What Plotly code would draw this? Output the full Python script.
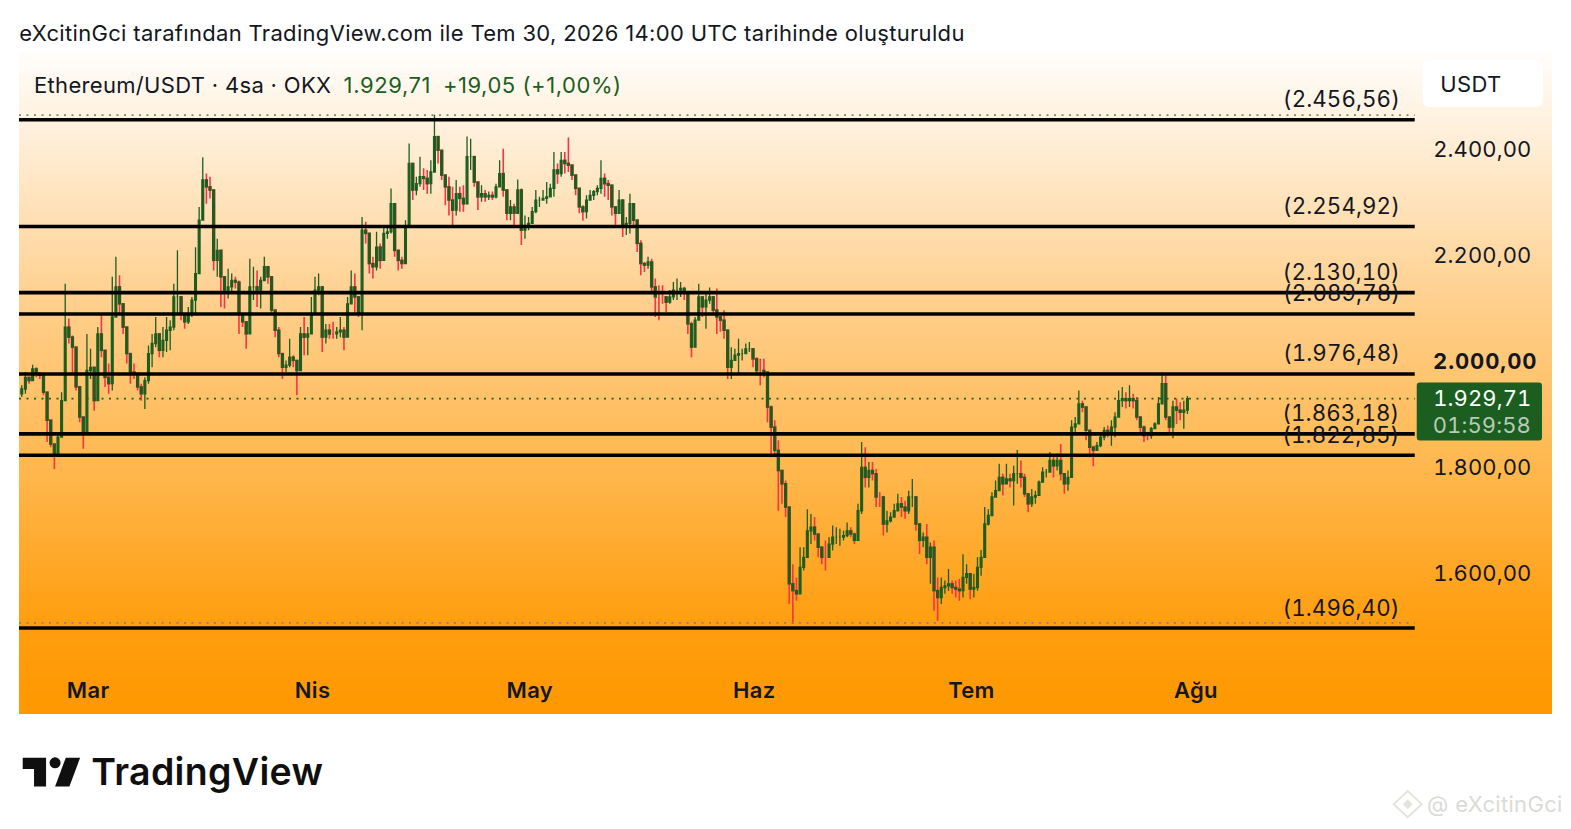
import numpy as np
import pandas as pd
import plotly.graph_objects as go

highs = [1952,1955,1980,1970,1994,1989,1980,1961,1933,1866,1835,1863,1942,2147,2081,2049,2027,1936,1888,2052,2024,1970,2065,2090,2008,1996,2160,2198,2163,2097,2065,1993,1996,1974,1958,1970,2030,2052,2084,2052,2065,2084,2078,2147,2210,2122,2090,2103,2122,2216,2292,2386,2355,2349,2317,2232,2197,2160,2175,2166,2160,2153,2090,2071,2194,2179,2172,2160,2198,2179,2153,2078,2065,2002,2002,2043,2012,2002,2065,2084,2065,2122,2160,2166,2141,2071,2071,2075,2065,2084,2065,2122,2172,2166,2116,2273,2264,2229,2198,2245,2223,2256,2254,2327,2223,2210,2198,2267,2412,2362,2349,2387,2365,2362,2380,2466,2425,2371,2349,2349,2330,2343,2330,2333,2425,2421,2374,2336,2333,2324,2321,2321,2336,2380,2402,2311,2305,2298,2344,2327,2276,2273,2292,2324,2311,2324,2339,2336,2396,2374,2396,2396,2423,2371,2352,2317,2295,2314,2324,2324,2333,2380,2355,2343,2317,2292,2324,2280,2273,2317,2298,2261,2229,2188,2198,2194,2157,2144,2144,2122,2135,2150,2157,2150,2141,2122,2075,2084,2147,2122,2128,2140,2122,2138,2087,2097,2046,2027,2024,2043,2024,2034,2037,2024,2008,2005,2005,1980,1917,1889,1851,1791,1775,1693,1617,1592,1649,1649,1721,1712,1706,1674,1649,1662,1668,1690,1687,1684,1680,1696,1687,1677,1731,1848,1838,1810,1810,1797,1753,1744,1718,1715,1731,1750,1744,1737,1756,1778,1731,1680,1677,1693,1658,1662,1592,1592,1586,1608,1586,1586,1589,1636,1617,1599,1599,1630,1644,1725,1721,1753,1775,1807,1788,1807,1788,1803,1833,1813,1788,1750,1759,1756,1775,1800,1797,1829,1822,1826,1844,1788,1794,1889,1895,1945,1926,1885,1860,1841,1848,1860,1876,1879,1889,1904,1945,1952,1942,1955,1939,1933,1892,1879,1863,1876,1885,1933,1979,1974,1892,1926,1930,1923,1926,1935]
lows = [1907,1933,1939,1958,1970,1970,1967,1936,1848,1838,1797,1838,1870,1945,2034,1977,1945,1885,1835,1926,1967,1907,1926,2008,1952,1939,1945,2122,2090,2052,1996,1958,1967,1945,1926,1910,1958,1989,2027,2008,2008,2018,2021,2059,2090,2078,2062,2071,2084,2090,2235,2305,2298,2308,2172,2160,2103,2100,2119,2131,2138,2052,2065,2024,2052,2116,2103,2100,2160,2147,2090,2046,2008,1967,1980,1989,1989,1936,1996,2012,2012,2052,2090,2125,2018,2034,2043,2043,2043,2046,2021,2046,2109,2090,2084,2059,2223,2166,2157,2172,2175,2229,2232,2242,2198,2172,2175,2194,2330,2305,2314,2330,2324,2317,2317,2362,2374,2343,2295,2276,2257,2276,2283,2283,2330,2362,2330,2286,2302,2302,2305,2305,2308,2336,2311,2267,2267,2257,2280,2220,2232,2248,2273,2280,2292,2305,2298,2311,2311,2336,2349,2355,2358,2343,2314,2280,2266,2270,2305,2305,2314,2317,2311,2305,2276,2257,2280,2235,2239,2242,2257,2207,2163,2169,2175,2128,2084,2078,2109,2093,2109,2116,2116,2122,2116,2052,2008,2040,2078,2084,2062,2109,2087,2052,2056,2043,1967,1967,2002,1977,2002,2018,2018,1989,1974,1955,1970,1885,1819,1819,1718,1731,1706,1542,1504,1548,1567,1605,1643,1655,1662,1630,1617,1605,1630,1643,1655,1652,1662,1668,1668,1655,1662,1712,1762,1762,1775,1725,1725,1671,1677,1696,1706,1718,1706,1703,1712,1725,1680,1636,1649,1617,1580,1529,1510,1542,1561,1567,1561,1554,1548,1554,1580,1551,1554,1567,1595,1649,1690,1725,1744,1762,1747,1769,1762,1728,1769,1762,1744,1715,1725,1731,1750,1775,1781,1794,1781,1794,1775,1750,1756,1788,1863,1895,1904,1851,1819,1802,1835,1838,1851,1857,1841,1857,1895,1914,1911,1914,1911,1889,1863,1848,1851,1854,1873,1882,1926,1889,1867,1855,1882,1889,1873,1901]
closes = [1939,1948,1970,1964,1986,1977,1974,1942,1889,1844,1825,1857,1926,2065,2046,2027,1952,1895,1863,1983,1989,1926,2052,2021,1970,1958,2084,2141,2109,2065,2015,1980,1977,1952,1939,1964,2015,2034,2052,2021,2040,2059,2065,2122,2122,2090,2075,2090,2116,2166,2267,2343,2330,2324,2191,2210,2160,2135,2141,2153,2150,2090,2075,2052,2141,2141,2135,2153,2179,2160,2097,2059,2015,1989,1993,2008,2002,1983,2052,2046,2052,2090,2135,2141,2046,2059,2052,2052,2056,2059,2046,2109,2141,2122,2090,2248,2242,2185,2179,2216,2191,2242,2245,2298,2210,2191,2185,2254,2374,2324,2336,2349,2346,2336,2358,2425,2399,2352,2330,2305,2286,2317,2308,2298,2387,2387,2339,2311,2317,2311,2314,2311,2330,2355,2324,2280,2292,2280,2324,2248,2254,2261,2283,2305,2305,2308,2311,2327,2362,2355,2380,2374,2371,2352,2327,2292,2283,2305,2314,2321,2327,2346,2336,2333,2292,2280,2305,2254,2261,2298,2267,2223,2185,2182,2188,2141,2122,2122,2122,2112,2122,2135,2135,2138,2131,2071,2027,2078,2122,2103,2116,2122,2097,2084,2078,2059,1989,2002,2012,2015,2015,2024,2024,2005,1983,1983,1980,1914,1876,1832,1794,1769,1725,1580,1567,1561,1611,1630,1680,1687,1674,1649,1630,1630,1655,1668,1668,1668,1671,1680,1674,1662,1718,1800,1781,1794,1788,1744,1744,1693,1699,1706,1718,1731,1725,1718,1744,1744,1693,1662,1668,1630,1649,1567,1554,1573,1576,1580,1573,1570,1567,1592,1599,1570,1573,1611,1630,1693,1709,1744,1756,1781,1769,1778,1775,1788,1788,1781,1750,1731,1744,1747,1772,1791,1791,1813,1803,1813,1788,1769,1781,1876,1882,1920,1914,1870,1838,1832,1841,1857,1870,1867,1876,1895,1926,1930,1926,1930,1926,1895,1876,1860,1860,1873,1882,1920,1958,1895,1876,1914,1908,1904,1908,1929.71]

levels = [2456.56, 2254.92, 2130.10, 2089.78, 1976.48, 1863.18, 1822.85, 1496.40]
level_labels = ["(2.456,56)", "(2.254,92)", "(2.130,10)", "(2.089,78)", "(1.976,48)", "(1.863,18)", "(1.822,85)", "(1.496,40)"]
high_price = 2465.5
low_price = 1506.0
last_price = 1929.71
y_ticks = [1600, 1800, 2000, 2200, 2400]
y_tick_labels = ["1.600,00\u00a0", "1.800,00\u00a0", "<b>2.000,00</b>", "2.200,00\u00a0", "2.400,00\u00a0"]
month_ticks = ["2026-03-01", "2026-04-01", "2026-05-01", "2026-06-01", "2026-07-01", "2026-08-01"]
month_labels = ["Mar", "Nis", "May", "Haz", "Tem", "Ağu"]

INK = "#131722"
UP = "#1B5E20"
DOWN = "#F23645"
S = 1.002
L, R, T, B = 19 * S, 1549 * S, 52 * S, 713 * S
FONT = "Inter"

def px(x): return (x * S - L) / (R - L)
def py(y): return (B - y * S) / (B - T)

def rounded(x0, y0, x1, y1, r):
    a, b, c, d = px(x0), px(x1), py(y0), py(y1)
    rx, ry = r / (R - L), r / (B - T)
    return (f"M{a+rx},{c} L{b-rx},{c} Q{b},{c} {b},{c-ry} L{b},{d+ry} Q{b},{d} {b-rx},{d} "
            f"L{a+rx},{d} Q{a},{d} {a},{d+ry} L{a},{c-ry} Q{a},{c} {a+rx},{c} Z")

def poly(points):
    return "M" + " L".join(f"{px(x)},{py(y)}" for x, y in points) + " Z"

times = pd.date_range("2026-02-19 08:00", periods=len(closes), freq="12h")
opens = [closes[0]] + closes[:-1]
highs_c = [max(h, o, c) for h, o, c in zip(highs, opens, closes)]
lows_c = [min(l, o, c) for l, o, c in zip(lows, opens, closes)]

mar1 = pd.Timestamp("2026-03-01")
day_px = 7.226 * S
x_start = mar1 - pd.Timedelta(days=(88 * S - L) / day_px)
x_end = mar1 + pd.Timedelta(days=(R - 88 * S) / day_px)
x_line_end = mar1 + pd.Timedelta(days=(1412 - 88) * S / day_px)
y_lo, y_hi = 1334.0, 2584.7

fig = go.Figure()

# gradient ground of the pane
grad_y = np.linspace(y_lo - 5, y_hi + 5, 120)
fig.add_trace(go.Heatmap(
    x=[x_start, x_end], y=grad_y, z=[[v, v] for v in grad_y],
    zmin=y_lo, zmax=y_hi, zsmooth="best", showscale=False, hoverinfo="skip",
    colorscale=[[0, "#FF9800"], [0.14, "#FF9E10"], [0.37, "#FFB74D"], [0.62, "#FFCF8C"],
                [0.85, "#FFECD2"], [1, "#FFFDFB"]],
))

fig.add_trace(go.Candlestick(
    x=times, open=opens, high=highs_c, low=lows_c, close=closes, whiskerwidth=0,
    increasing=dict(line=dict(color=UP, width=1.3), fillcolor=UP),
    decreasing=dict(line=dict(color=DOWN, width=1.6), fillcolor=DOWN),
    showlegend=False,
))
# bodies of the falling candles are dark too: only their wicks show red
down = [i for i, (o, c) in enumerate(zip(opens, closes)) if c < o]
fig.add_trace(go.Candlestick(
    x=[times[i] for i in down],
    open=[closes[i] for i in down], close=[opens[i] for i in down],
    high=[opens[i] for i in down], low=[closes[i] for i in down],
    whiskerwidth=0,
    increasing=dict(line=dict(color=UP, width=1.3), fillcolor=UP),
    showlegend=False, hoverinfo="skip",
))

for price, color in [(high_price, "#85857e"), (low_price, "#85857e"), (last_price, UP)]:
    fig.add_trace(go.Scatter(x=[x_start, x_line_end], y=[price, price], mode="lines",
                             line=dict(color=color, width=1.8, dash="2px,5.5px"),
                             showlegend=False, hoverinfo="skip"))
for price in levels:
    fig.add_trace(go.Scatter(x=[x_start, x_line_end], y=[price, price], mode="lines",
                             line=dict(color="#000000", width=3.6),
                             showlegend=False, hoverinfo="skip"))

ann = []
def text(x, y, s, size=22, color=INK, weight=None):
    ann.append(dict(xref="paper", yref="paper", x=px(x), y=py(y), text=s, showarrow=False,
                    xanchor="center", yanchor="middle", borderpad=0,
                    font=dict(family=FONT, size=size, color=color, weight=weight)))

for price, label in zip(levels, level_labels):
    ann.append(dict(xref="paper", yref="y", x=px(1338.5), y=price, text=label, showarrow=False,
                    xanchor="center", yanchor="middle", yshift=21, borderpad=0,
                    font=dict(family=FONT, size=22.3, color=INK)))

text(491, 33.5, "eXcitinGci tarafından TradingView.com ile Tem 30, 2026 14:00 UTC tarihinde oluşturuldu")
text(182, 85, "Ethereum/USDT · 4sa · OKX")
text(387, 85, "1.929,71", color=UP)
text(531, 85, "+19,05 (+1,00%)", color=UP)
text(1468, 84, "USDT")
text(1479.5, 397, "1.929,71", color="#FFFFFF")
text(1479, 424, "01:59:58", color="#B9C9BA")
text(207.5, 770, "TradingView", size=37.5, color="#0F0F0F", weight=600)
text(1492.5, 803, "@ eXcitinGci", color="#DBDBD5")

shapes = [
    dict(type="path", xref="paper", yref="paper", path=rounded(1420, 60, 1540, 107, 7),
         fillcolor="#FFFFFF", line=dict(width=0), layer="above"),
    dict(type="path", xref="paper", yref="paper", path=rounded(1414, 382, 1539, 440, 3),
         fillcolor=UP, line=dict(width=0), layer="above"),
    dict(type="path", xref="paper", yref="paper",
         path=poly([(22.7, 756.7), (46, 756.7), (46, 785.3), (34, 785.3), (34, 768), (22.7, 768)]),
         fillcolor="#0F0F0F", line=dict(width=0), layer="above"),
    dict(type="path", xref="paper", yref="paper",
         path=poly([(65.7, 756.7), (80, 756.7), (69.3, 785.3), (55, 785.3)]),
         fillcolor="#0F0F0F", line=dict(width=0), layer="above"),
    dict(type="circle", xref="paper", yref="paper", x0=px(49.5), x1=px(60.5), y0=py(767.2), y1=py(756.2),
         fillcolor="#0F0F0F", line=dict(width=0), layer="above"),
    dict(type="path", xref="paper", yref="paper",
         path=poly([(1405, 790), (1419, 803), (1405, 816), (1391, 803)]),
         fillcolor="rgba(0,0,0,0)", line=dict(width=2, color="#E4E4DC"), layer="above"),
    dict(type="path", xref="paper", yref="paper",
         path=poly([(1405, 798), (1410, 803), (1405, 808), (1400, 803)]),
         fillcolor="#E4E4DC", line=dict(width=0), layer="above"),
]

fig.update_layout(
    width=1571, height=829, autosize=False,
    margin=dict(l=L, r=1571 - R, t=T, b=829 - B, pad=0),
    paper_bgcolor="#FFFFFF", plot_bgcolor="#FFFFFF",
    font=dict(family=FONT, color=INK), showlegend=False,
    annotations=ann, shapes=shapes,
    xaxis=dict(type="date", range=[x_start, x_end], rangeslider=dict(visible=False),
               tickmode="array", tickvals=month_ticks, ticktext=month_labels,
               ticks="inside", ticklen=13, tickcolor="rgba(0,0,0,0)", ticklabelposition="inside",
               tickfont=dict(family=FONT, size=22, color=INK, weight=600),
               showgrid=False, zeroline=False, showline=False),
    yaxis=dict(range=[y_lo, y_hi], side="right", tickmode="array", tickvals=y_ticks, ticktext=y_tick_labels,
               ticks="inside", ticklen=16, tickcolor="rgba(0,0,0,0)", ticklabelposition="inside",
               tickfont=dict(family=FONT, size=22, color=INK),
               showgrid=False, zeroline=False, showline=False),
)

page_js = """
document.body.style.margin='0';
document.documentElement.style.overflow='hidden';
document.querySelectorAll('svg text').forEach(function(t){
  var s=t.textContent, left=t.getBoundingClientRect().left, ls=.32, tab=false;
  if(/^\\(\\d/.test(s)){ls=.1;tab=true;}
  else if(/^\\d\\.\\d{3},\\d\\d/.test(s)){
    if(left<1000){ls=.6;}
    else{ls=(s==='2.000,00')?.9:.1;tab=true;}
  }
  else if(/^01:/.test(s)){ls=.1;tab=true;}
  else if(/^\\+19/.test(s)){ls=.55;}
  t.style.letterSpacing=ls+'px';
  if(tab){t.style.fontVariantNumeric='tabular-nums';}
});
"""
fig.write_html("out.html", post_script=page_js, config=dict(displayModeBar=False, responsive=False))
